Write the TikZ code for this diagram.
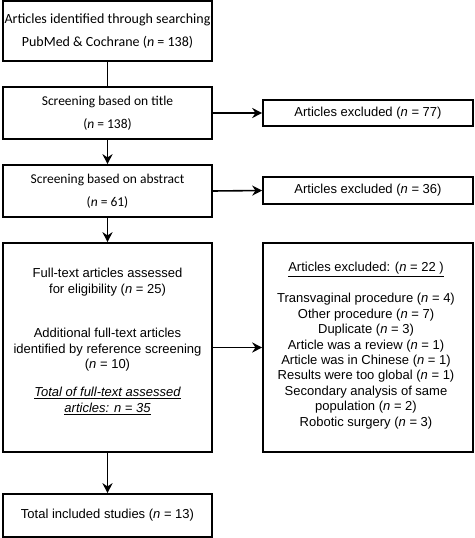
\documentclass[tikz,border=0pt]{standalone}
\usepackage{fontspec}
\setmainfont{Liberation Sans}
\newfontfamily\calibri{Carlito}
\usetikzlibrary{arrows.meta}
\tikzset{box/.style={draw, line width=1.6pt, inner sep=0pt, align=center},
  conn/.style={line width=1.6pt},
  arr/.style={conn, -{Stealth[length=10pt, width=10pt]}},
  calfont/.style={font={\calibri\fontsize{13.5}{23}\selectfont}}}

\begin{document}
\begin{tikzpicture}[x=1pt, y=-1pt, font={\fontsize{13}{15.4}\selectfont}]
  \useasboundingbox (0,0) rectangle (474,538);
  % left column
  \node [box, font={\calibri\fontsize{14}{23}\selectfont}, minimum width=209pt, minimum height=60pt] (search) at (107.5,31)
    {Articles identified through searching\\PubMed \& Cochrane (\textit{n} = 138)};
  \node [box, calfont, minimum width=209pt, minimum height=52pt] (title) at (107.5,113)
    {Screening based on title\\(\textit{n} = 138)};
  \node [box, calfont, minimum width=209pt, minimum height=52pt] (abstract) at (107.5,191)
    {Screening based on abstract\\(\textit{n} = 61)};
  \node [box, minimum width=209pt, minimum height=209pt] (fulltext) at (107.5,347.5) {};
  \node [anchor=north, align=center] (fulltexttxt) at (107.5,265)
    {Full-text articles assessed\\for eligibility (\textit{n} = 25)\\[29pt]
     Additional full-text articles\\identified by reference screening\\(\textit{n} = 10)\\[13pt]
     \textit{\underline{Total of full-text assessed}}\\\textit{\underline{articles: n = 35}}};
  \node [box, minimum width=209pt, minimum height=43pt] (included) at (107.5,515.5)
    {Total included studies (\textit{n} = 13)};
  % right column
  \node [box, minimum width=210pt, minimum height=26pt] (excltitle) at (368,113)
    {Articles excluded (\textit{n} = 77)};
  \node [box, minimum width=210pt, minimum height=27pt] (exclabs) at (368,190.5)
    {Articles excluded (\textit{n} = 36)};
  \node [box, minimum width=210pt, minimum height=209pt] (exclfull) at (368,347.5) {};
  \node [anchor=north, align=center] (exclfulltxt) at (366,259)
    {\underline{Articles excluded: (\textit{n} = 22 )}\\[15.6pt]
     Transvaginal procedure (\textit{n} = 4)\hspace*{20pt}\\
     Other procedure (\textit{n} = 7)\\
     Duplicate (\textit{n} = 3)\\
     Article was a review (\textit{n} = 1)\\
     Article was in Chinese (\textit{n} = 1)\\
     Results were too global (\textit{n} = 1)\\
     Secondary analysis of same\\
     population (\textit{n} = 2)\\
     Robotic surgery (\textit{n} = 3)};
  % connectors
  \draw [conn] (search) -- (title);
  \draw [arr] (title) -- (abstract);
  \draw [arr] (abstract) -- (fulltext);
  \draw [arr] (fulltext) -- (included);
  \draw [arr] (title.east) -- (excltitle.west);
  \draw [arr] (abstract.east) -- (exclabs.west);
  \draw [arr] (fulltext.east) -- (exclfull.west);
\end{tikzpicture}
\end{document}
